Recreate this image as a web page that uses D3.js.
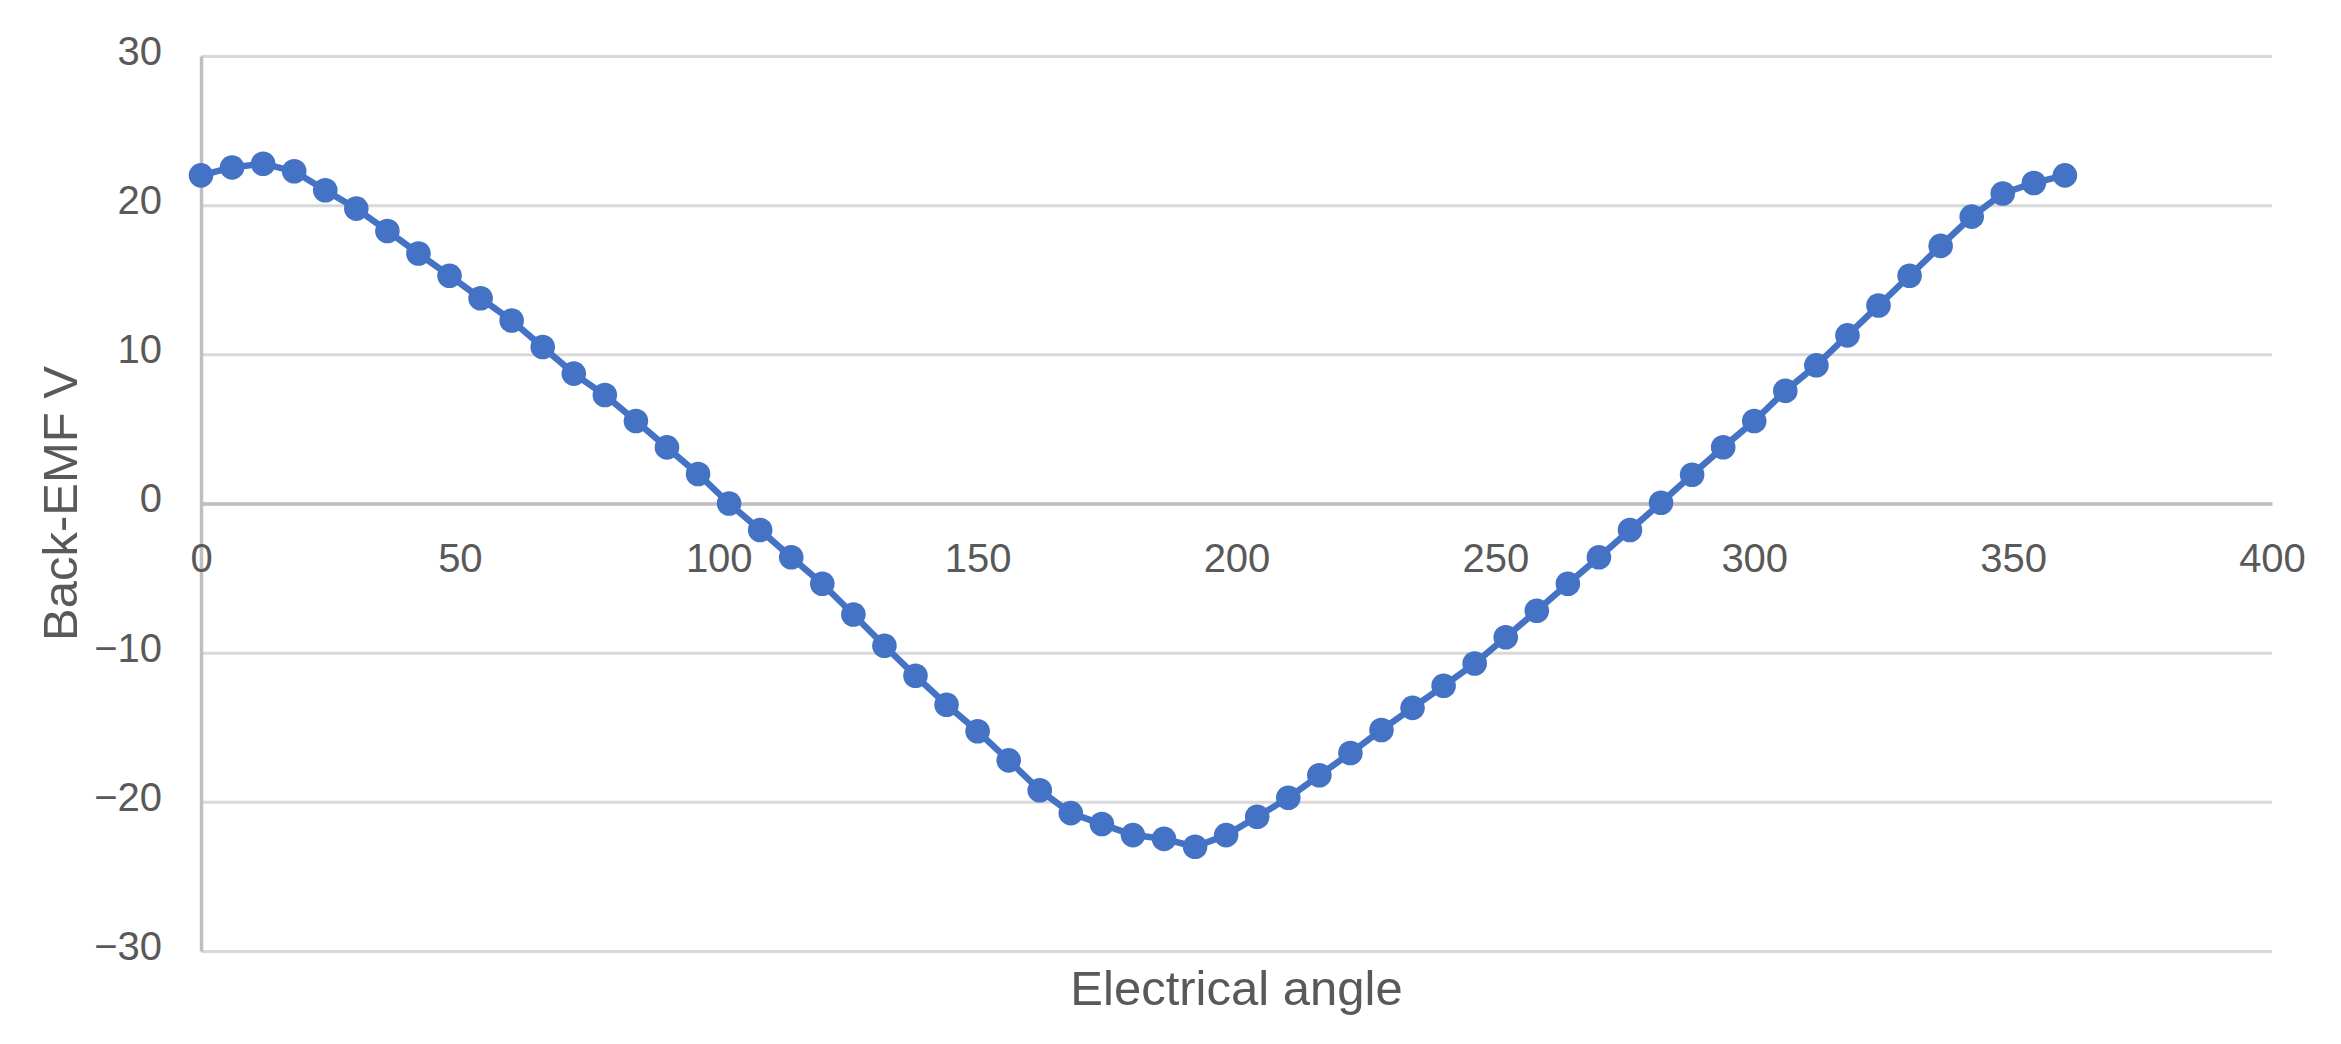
<!DOCTYPE html>
<html>
<head>
<meta charset="utf-8">
<script src="https://cdn.jsdelivr.net/npm/d3@7"></script>
<style>
  body { margin: 0; background: #ffffff; }
  svg text { font-family: "Liberation Sans", Arial, sans-serif; fill: #595959; }
</style>
</head>
<body>
<svg id="chart" width="2341" height="1044"></svg>
<script>
// ---- data ----
const angles = [0,6,12,18,24,30,36,42,48,54,60,66,72,78,84,90,96,102,108,114,120,
  126,132,138,144,150,156,162,168,174,180,186,192,198,204,210,216,222,228,234,240,
  246,252,258,264,270,276,282,288,294,300,306,312,318,324,330,336,342,348,354,360];
const backEmf = [22.0,22.53,22.78,22.27,21.0,19.77,18.27,16.76,15.27,13.76,12.27,
  10.49,8.71,7.27,5.53,3.76,1.98,0.0,-1.78,-3.6,-5.38,-7.44,-9.54,-11.55,-13.49,
  -15.27,-17.22,-19.22,-20.76,-21.49,-22.23,-22.48,-23.01,-22.23,-21.0,-19.73,
  -18.22,-16.73,-15.18,-13.7,-12.22,-10.73,-8.97,-7.19,-5.38,-3.6,-1.78,0.05,
  1.93,3.77,5.53,7.55,9.27,11.27,13.27,15.27,17.27,19.23,20.78,21.49,22.0];
const xTicks = [0,50,100,150,200,250,300,350,400];
const yTicks = [-30,-20,-10,0,10,20,30];
const xTitle = "Electrical angle";
const yTitle = "Back-EMF V";

// ---- layout ----
const svg = d3.select("#chart");
const plotL = 201, plotR = 2272, plotT = 56, plotB = 951;
const x = d3.scaleLinear().domain([0, 400]).range([plotL, plotR]);
const y = d3.scaleLinear().domain([-30, 30]).range([plotB, plotT]);
const fmt = d3.format("d");

// horizontal gridlines
const grid = svg.append("g")
  .attr("transform", `translate(${plotL},0)`)
  .call(d3.axisLeft(y).tickValues(yTicks).tickSize(-(plotR - plotL)).tickFormat(""));
grid.select(".domain").remove();
grid.selectAll(".tick line").attr("stroke", "#d9d9d9").attr("stroke-width", 3);

// y axis (line + labels)
const yAxis = svg.append("g")
  .attr("transform", `translate(${plotL},0)`)
  .call(d3.axisLeft(y).tickValues(yTicks).tickSize(0).tickSizeOuter(0).tickPadding(39).tickFormat(fmt));
yAxis.select(".domain").attr("stroke", "#bfbfbf").attr("stroke-width", 3.5);
yAxis.selectAll(".tick text")
  .attr("dy", "0.21em")
  .style("font-size", "40px")
  .attr("fill", "#595959");

// x axis crossing at y = 0
const xAxis = svg.append("g")
  .attr("transform", `translate(0,${y(0)})`)
  .call(d3.axisBottom(x).tickValues(xTicks).tickSize(0).tickSizeOuter(0).tickPadding(40).tickFormat(fmt));
xAxis.select(".domain").attr("stroke", "#bfbfbf").attr("stroke-width", 3.5);
xAxis.selectAll(".tick text")
  .style("font-size", "40px")
  .attr("fill", "#595959");

// series
const pts = angles.map((a, i) => [a, backEmf[i]]);
svg.append("path")
  .datum(pts)
  .attr("fill", "none")
  .attr("stroke", "#4472C4")
  .attr("stroke-width", 6.5)
  .attr("stroke-linejoin", "round")
  .attr("d", d3.line().x(d => x(d[0])).y(d => y(d[1])));

svg.append("g").selectAll("circle")
  .data(pts)
  .join("circle")
  .attr("cx", d => x(d[0]))
  .attr("cy", d => y(d[1]))
  .attr("r", 12.3)
  .attr("fill", "#4472C4");

// titles
svg.append("text")
  .attr("x", (plotL + plotR) / 2)
  .attr("y", 1005)
  .attr("text-anchor", "middle")
  .style("font-size", "49px")
  .text(xTitle);

svg.append("text")
  .attr("transform", `translate(77,${(plotT + plotB) / 2}) rotate(-90)`)
  .attr("text-anchor", "middle")
  .style("font-size", "49px")
  .text(yTitle);
</script>
</body>
</html>
